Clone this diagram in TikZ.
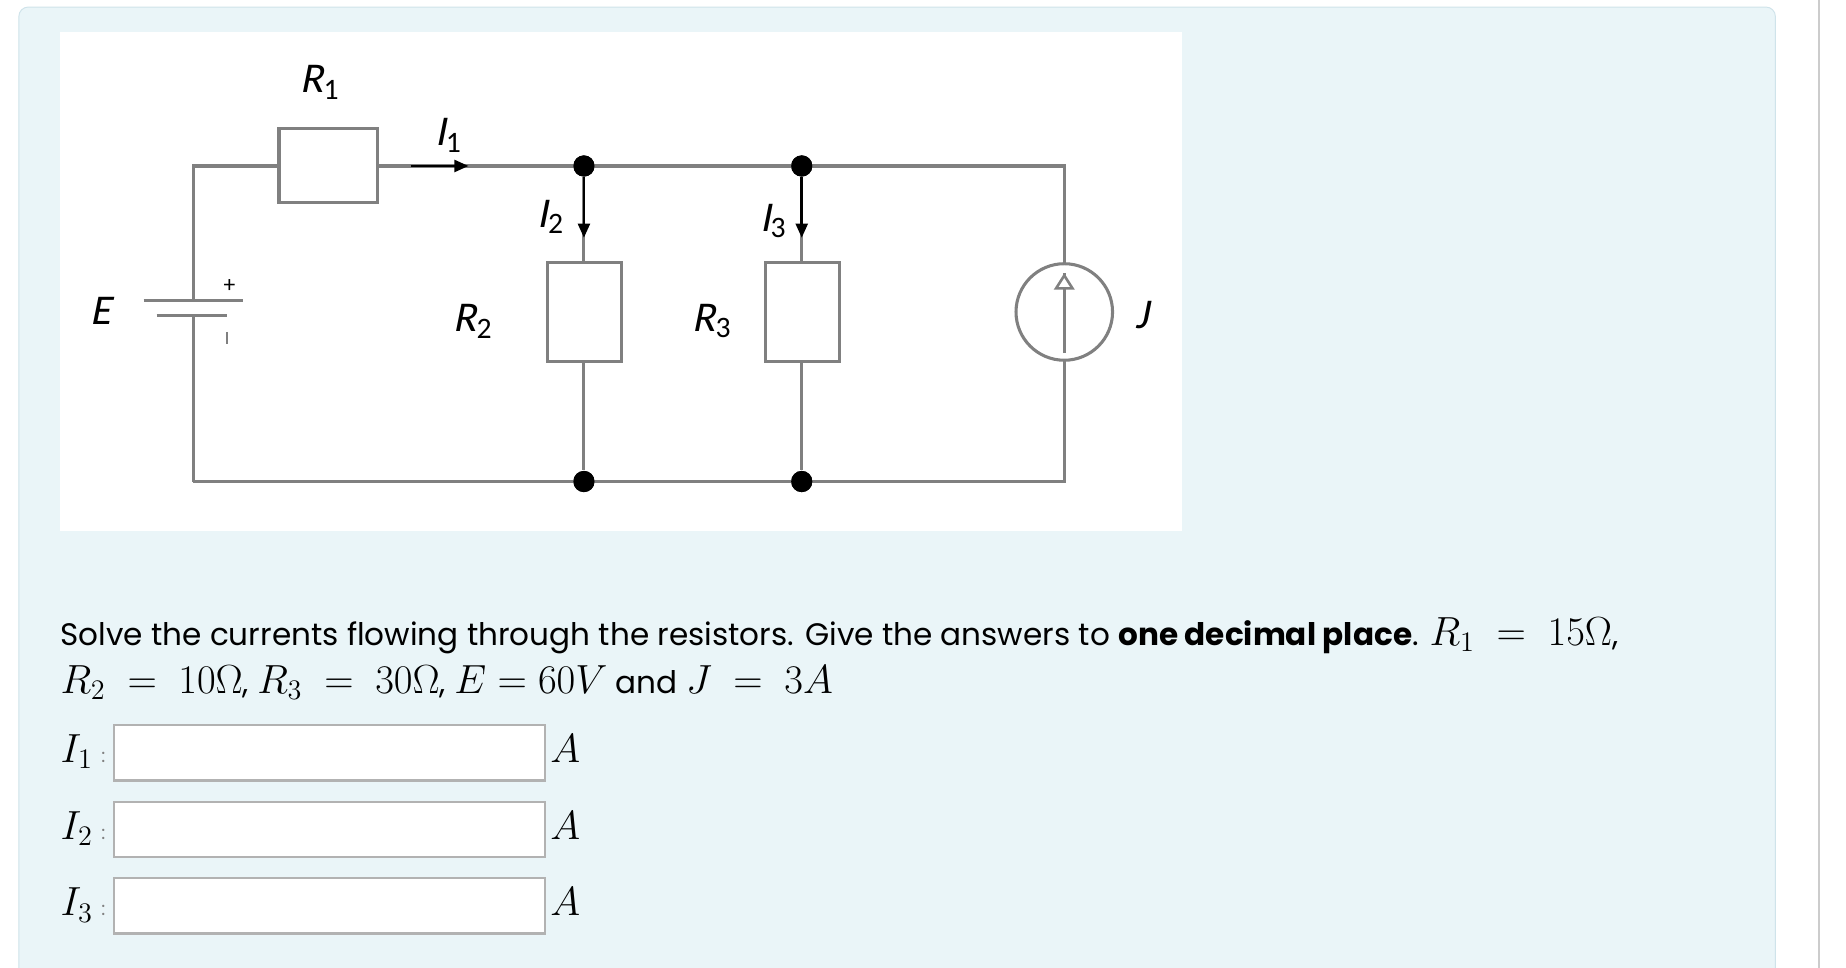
\documentclass[tikz,border=0pt]{standalone}
\usepackage{fontspec}
\setmainfont{Poppins}
\newfontfamily\carfont{Carlito}
\newfontfamily\carit{Carlito}[FakeSlant=0.2]
\usetikzlibrary{arrows.meta}
\definecolor{panel}{HTML}{EAF5F8}
\definecolor{panelb}{HTML}{CFE3EA}
\definecolor{wire}{HTML}{808080}
\newcommand{\mm}[1]{{\fontsize{16.5}{16}\selectfont$#1$}}
\newcommand{\lsub}[2]{#1\textsubscript{\carfont #2}}
\begin{document}
\begin{tikzpicture}[x=0.5pt,y=-0.5pt,
  w/.style={draw=wire,line width=1.3pt},
  res/.style={draw=wire,line width=1.3pt,fill=white},
  dot/.style={circle,fill=black,inner sep=0pt,minimum size=9pt},
  lab/.style={font=\carit\fontsize{18}{18}\selectfont,inner sep=0pt},
  cur/.style={draw=black,line width=1.2pt,-{Triangle[length=6pt,width=5pt]}},
  inbox/.style={draw=gray!60,line width=1pt,fill=white},
  txt/.style={font=\fontsize{13.2}{16}\selectfont,anchor=base west,inner sep=0pt}]
\useasboundingbox (0,0) rectangle (1568,822);
\fill[white] (0,0) rectangle (1568,822);
\draw[panelb,fill=panel,rounded corners=4pt] (16,6) rectangle (1508,830);
\draw[gray!40,line width=1pt] (1545,0) -- (1545,822);
\fill[white] (51,27) rectangle (1004,451);
% wires
\coordinate (tl) at (164,141); \coordinate (bl) at (164,409);
\coordinate (tr) at (904,141); \coordinate (br) at (904,409);
\node[dot] (n1) at (496,141) {}; \node[dot] (n2) at (681,141) {};
\node[dot] (n3) at (496,409) {}; \node[dot] (n4) at (681,409) {};
\draw[w] (bl) -- (tl) -- (tr) -- (br) -- (bl);
\draw[w] (n1) -- (n3); \draw[w] (n2) -- (n4);
\foreach \n in {n1,n2,n3,n4} \fill (\n) circle (4.5pt);
% battery
\fill[white] (150,250) rectangle (178,272);
\draw[w] (122,255) -- (206,255);
\draw[w] (133,268) -- (193,268);
\draw[w] (164,255) -- (164,248); \draw[w] (164,268) -- (164,275);
\node[font=\carfont\fontsize{10}{10}\selectfont] (plus) at (195,243) {+};
\draw[wire,line width=1pt] (193,282) -- (193,292);
% resistors
\draw[res] (237,109) rectangle (321,172);
\draw[res] (465,223) rectangle (528,307);
\draw[res] (650,223) rectangle (713,307);
% source
\node[circle,draw=wire,line width=1.3pt,fill=white,minimum size=41pt] (J) at (904,265) {};
\draw[wire,line width=1.3pt] (904,300) -- (904,232);
\draw[wire,line width=1.1pt,fill=white] (904,234) -- (897,245) -- (911,245) -- cycle;
% currents
\coordinate (a1) at (349,141); \coordinate (a2) at (398,141);
\draw[cur] (a1) -- (a2);
\coordinate (b1) at (496,150); \coordinate (b2) at (496,202);
\draw[cur] (b1) -- (b2);
\coordinate (c1) at (681,150); \coordinate (c2) at (681,202);
\draw[cur] (c1) -- (c2);
% labels
\node[lab] (lR1) at (272,70) {\lsub{R}{1}};
\node[lab] (lI1) at (381,115) {\lsub{I}{1}};
\node[lab] (lI2) at (468,184) {\lsub{I}{2}};
\node[lab] (lI3) at (657,188) {\lsub{I}{3}};
\node[lab] (lE) at (86,264) {E};
\node[lab] (lR2) at (402,273) {\lsub{R}{2}};
\node[lab] (lR3) at (605,273) {\lsub{R}{3}};
\node[lab] (lJ) at (970,268) {J};
% text
\node[txt] (t1) at (51,548) {Solve the currents flowing through the resistors. Give the answers to \textbf{one decimal place}. \mm{R_1\ =\ 15\Omega},};
\node[txt] (t2) at (51,589) {\mm{R_2\ =\ 10\Omega}, \mm{R_3\ =\ 30\Omega}, \mm{E = 60V} and \mm{J\ =\ 3A}};
\foreach \i/\y in {1/638,2/703,3/768}{
  \node[txt] (L\i) at (51,\y+10) {\mm{I_\i} \textcolor{gray}{\fontsize{8}{8}\selectfont:}};
  \draw[inbox] (97,\y-22) rectangle (463,\y+25);
  \node[txt] (A\i) at (467,\y+10) {\mm{A}};
}
\end{tikzpicture}
\end{document}
